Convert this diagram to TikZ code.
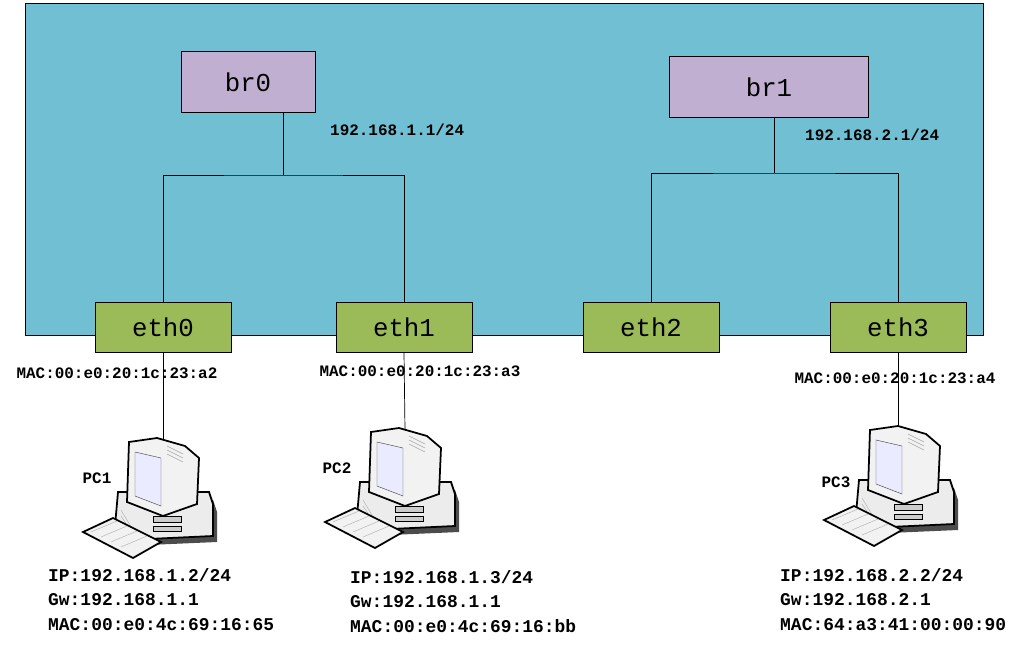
\documentclass[tikz,border=0pt]{standalone}
\usepackage{fontspec}
\setmainfont{Liberation Serif}
\newfontfamily\labelfont{Liberation Mono}
\usetikzlibrary{calc}
\definecolor{hostblue}{RGB}{112,191,211}
\definecolor{brpurple}{RGB}{192,175,208}
\definecolor{ethgreen}{RGB}{155,187,89}

% a desktop computer, its cable entering at the top
\newcommand{\pcicon}[2]{%
  \begin{scope}[shift={(#2)}]
    \fill[black!70] (-42,60) -- (50,60) -- (54,72) -- (54,102) -- (-38,106) -- (-50,92) -- cycle;
    \fill[gray!15, draw=black, line width=1.5pt] (-45,52) -- (46,52) -- (50,64) -- (50,96) -- (-36,100) -- (-48,86) -- cycle;
    \draw[gray!60] (-42,70) -- (-30,90) (-42,76) -- (-30,94);
    \fill[gray!40, draw=black] (-10,76) rectangle (18,82);
    \fill[gray!40, draw=black] (-10,86) rectangle (18,91);
    \fill[gray!10, draw=black, line width=1.5pt] (-34,2) -- (-6,-2) -- (22,6) -- (36,18) -- (34,64) -- (0,76) -- (-36,62) -- cycle;
    \fill[blue!8, draw=black!70] (-28,12) -- (-2,18) -- (-2,66) -- (-28,56) -- cycle;
    \draw[gray!70] (4,6) -- (20,14) (4,10) -- (20,18) (4,14) -- (20,22);
    \fill[gray!10, draw=black, line width=1.5pt] (-80,92) -- (-50,78) -- (-2,102) -- (-30,118) -- cycle;
    \draw[gray!60] (-72,92) -- (-46,81) (-62,97) -- (-36,86) (-52,102) -- (-26,91) (-42,107) -- (-16,96);
  \end{scope}}

\tikzset{
  box/.style={draw=black, minimum height=#1, inner sep=0pt, font=\labelfont\fontsize{22}{26}\selectfont},
  bridge/.style={box=61*0.3mm, fill=brpurple},
  port/.style={box=50*0.3mm, fill=ethgreen, minimum width=136*0.3mm},
  info/.style={font=\labelfont\bfseries\fontsize{13.6}{17}\selectfont, inner sep=0pt},
  hostinfo/.style={info, anchor=north west, align=left, font=\labelfont\bfseries\fontsize{15.3}{21}\selectfont},
  wire/.style={draw=black, line width=0.6pt},
}

\begin{document}
\begin{tikzpicture}[x=0.03cm, y=-0.03cm]
  \useasboundingbox (0,0) rectangle (1024,646);
  \fill[hostblue, draw=black] (25,3) rectangle (983,335);

  \node[bridge, minimum width=134*0.3mm] (br0) at (248,82) {br0};
  \node[bridge, minimum width=199*0.3mm] (br1) at (769,87) {br1};

  \node[port] (eth0) at (163,327) {eth0};
  \node[port] (eth1) at (404,327) {eth1};
  \node[port] (eth2) at (651,327) {eth2};
  \node[port] (eth3) at (898,327) {eth3};

  \node[info, anchor=west] (ip0) at (330,130) {192.168.1.1/24};
  \node[info, anchor=west] (ip1) at (805,135) {192.168.2.1/24};

  \coordinate (j0) at (283,175);
  \coordinate (j1) at (774,173);
  \draw[wire] (283,113) -- (j0);
  \draw[wire] (eth0.north) |- (j0) -| (eth1.north);
  \draw[wire] (774,117) -- (j1);
  \draw[wire] (eth2.north) |- (j1) -| (eth3.north);

  \node[info] (mac0) at (117,373) {MAC:00:e0:20:1c:23:a2};
  \node[info] (mac1) at (420,371) {MAC:00:e0:20:1c:23:a3};
  \node[info] (mac3) at (895,378) {MAC:00:e0:20:1c:23:a4};

  \coordinate (pc1) at (163,440);
  \coordinate (pc2) at (405,430);
  \coordinate (pc3) at (904,428);
  \draw[wire] (eth0.south) -- (pc1);
  \draw[wire] (eth1.south) -- (pc2);
  \draw[wire] (eth3.south) -- (eth3.south |- pc3);
  \pcicon{pc1}{pc1}
  \pcicon{pc2}{pc2}
  \pcicon{pc3}{pc3}

  \node[info] (name1) at (97,478) {PC1};
  \node[info] (name2) at (337,468) {PC2};
  \node[info] (name3) at (836,482) {PC3};

  \node[hostinfo] (host1) at (48,568) {IP:192.168.1.2/24\\Gw:192.168.1.1\\MAC:00:e0:4c:69:16:65};
  \node[hostinfo] (host2) at (350,570) {IP:192.168.1.3/24\\Gw:192.168.1.1\\MAC:00:e0:4c:69:16:bb};
  \node[hostinfo] (host3) at (780,568) {IP:192.168.2.2/24\\Gw:192.168.2.1\\MAC:64:a3:41:00:00:90};
\end{tikzpicture}
\end{document}
